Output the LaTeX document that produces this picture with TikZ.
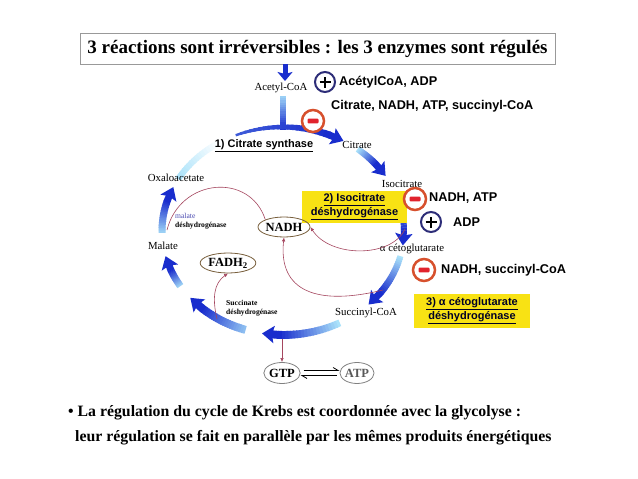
\documentclass[tikz,border=0pt]{standalone}
\usepackage{fontspec}
\setmainfont{Liberation Serif}
\setsansfont{Liberation Sans}
\usetikzlibrary{arrows.meta,shapes.geometric}
\definecolor{clight}{RGB}{170,226,250}
\definecolor{cdark}{RGB}{25,45,205}
\definecolor{ringc}{RGB}{215,80,45}
\definecolor{minusred}{RGB}{225,35,45}
\definecolor{navyc}{RGB}{45,45,120}
\definecolor{maroonc}{RGB}{165,70,95}
\definecolor{yboxc}{RGB}{248,226,20}
\definecolor{brownc}{RGB}{120,95,60}
\newcommand{\cyc}[1]{({283+121*cos(#1)},{231-104*sin(#1)})}
% #1 start angle, #2 tip angle, #3 start mix, #4 start width, #5 end width
\newcommand{\gradarc}[5]{%
  \pgfmathsetmacro{\gaT}{#2-8*sign(#2-#1)}%
  \foreach \k in {0,...,19}{%
    \pgfmathsetmacro{\ua}{#1+(\gaT-#1)*\k/20}%
    \pgfmathsetmacro{\ub}{#1+(\gaT-#1)*(\k+1.4)/20}%
    \pgfmathtruncatemacro{\mx}{#3+(100-#3)*\k/19}%
    \pgfmathsetmacro{\lw}{#4+(#5-#4)*\k/19}%
    \draw[line width=\lw pt, draw=cdark!\mx!clight] \cyc{\ua} -- \cyc{\ub};
  }%
  \draw[line width=#5pt, cdark, -{Stealth[length=12pt,width=17pt,inset=2pt]}] \cyc{\gaT} -- \cyc{#2};
}
\begin{document}
\begin{tikzpicture}[x=1pt,y=-1pt,
  lbl/.style={font=\fontsize{10.8}{11}\selectfont, inner sep=1pt},
  reg/.style={font=\sffamily\bfseries\fontsize{12.7}{13}\selectfont, anchor=west, inner sep=0pt},
  enz/.style={font=\sffamily\bfseries\fontsize{11}{13}\selectfont, align=center},
  regminus/.style={circle, draw=ringc, line width=2.5pt, fill=white, minimum size=22pt, inner sep=0pt,
    path picture={\fill[minusred, rounded corners=1pt] ([xshift=-5.5pt,yshift=-2.3pt]path picture bounding box.center) rectangle ([xshift=5.5pt,yshift=2.3pt]path picture bounding box.center);}},
  regplus/.style={circle, draw=navyc, line width=2pt, fill=white, minimum size=20pt, inner sep=0pt,
    path picture={\draw[black, line width=2.6pt] ([xshift=-5.5pt]path picture bounding box.center) -- ([xshift=5.5pt]path picture bounding box.center);
      \draw[black, line width=2.6pt] ([yshift=-5.5pt]path picture bounding box.center) -- ([yshift=5.5pt]path picture bounding box.center);}},
  thin/.style={draw=maroonc, line width=0.6pt},
  thinarrow/.style={thin, -{Latex[length=4pt,width=3.5pt]}},
  yb/.style={fill=yboxc, inner sep=0pt},
  cof/.style={ellipse, draw=brownc, line width=0.8pt, inner sep=0pt, font=\bfseries\fontsize{12.5}{12.5}\selectfont}
]
\useasboundingbox (0,0) rectangle (638,479);
\fill[white] (0,0) rectangle (638,479);

% title
\node[draw=gray!80, line width=0.8pt, minimum width=475pt, minimum height=31pt, inner sep=0pt,
  font=\bfseries\fontsize{19}{20}\selectfont] (title) at (317.5,48.5)
  {3 réactions sont irréversibles : les 3 enzymes sont régulés};

% acetyl-CoA input
\coordinate (acin) at (285,81);
\draw[line width=5pt, cdark, -{Stealth[length=9pt,width=15pt,inset=2pt]}] (title.south -| acin) -- (acin);
\node[lbl] (acetyl) at (281,88) {Acetyl-CoA};
\foreach \k in {0,...,14}{
  \pgfmathsetmacro{\ya}{96+2.2*\k}
  \pgfmathsetmacro{\yb}{\ya+3}
  \pgfmathtruncatemacro{\mx}{10+90*\k/14}
  \draw[line width=6pt, draw=cdark!\mx!clight] (283,\ya) -- (283,\yb);
}

% faint arc
\foreach \k in {0,...,15}{
  \pgfmathsetmacro{\ua}{150-28*\k/16}
  \pgfmathsetmacro{\ub}{150-28*(\k+1.4)/16}
  \pgfmathtruncatemacro{\mx}{100-95*\k/15}
  \draw[line width=6pt, draw=clight!\mx!white] \cyc{\ua} -- \cyc{\ub};
}

% cycle arrows
\gradarc{113}{60}{75}{2.5}{7}
\gradarc{52}{32}{0}{6}{7}
\gradarc{8}{-8}{70}{6}{6}
\gradarc{-14}{-45}{0}{6}{7}
\gradarc{-62}{-100}{0}{7}{8}
\gradarc{-108}{-140}{20}{8}{8}
\gradarc{-148}{-166}{10}{7}{7}
\gradarc{181}{155}{10}{7}{7}

% yellow boxes
\node[yb, minimum width=105pt, minimum height=32pt] (box2) at (354.5,207) {};
\node[enz, text=black!85!blue] (enz2) at (box2.center) {\underline{2) Isocitrate}\\[1pt]\underline{déshydrogénase}};
\node[yb, minimum width=116pt, minimum height=34pt] (box3) at (472,311) {};
\node[enz, text=black!85!blue] (enz3) at (box3.center) {\underline{3) α cétoglutarate}\\[1pt]\underline{déshydrogénase}};
\node[enz] (enz1) at (264,146) {\underline{1) Citrate synthase}};

% metabolite labels
\node[lbl] (citrate) at (357,145) {Citrate};
\node[lbl] (isocit) at (402,184) {Isocitrate};
\node[lbl] (akg) at (412,249) {α cétoglutarate};
\node[lbl] (succoa) at (366,313) {Succinyl-CoA};
\node[lbl] (oxalo) at (176,178) {Oxaloacetate};
\node[lbl] (malate) at (163,246) {Malate};
\node[font=\fontsize{7.6}{9}\selectfont, align=left, anchor=west, inner sep=0pt] (mdh) at (175,221)
  {\textcolor{blue!40!gray}{malate}\\\textbf{déshydrogénase}};
\node[font=\fontsize{7.6}{9}\selectfont, align=left, anchor=west, inner sep=0pt] (sdh) at (226,308)
  {\textbf{Succinate}\\\textbf{déshydrogénase}};

% cofactors
\node[cof, minimum width=42pt, minimum height=20pt] (nadh) at (284,227) {NADH};
\node[cof, minimum width=38pt, minimum height=20pt] (fadh) at (228,263) {FADH$_\mathbf{2}$};
\node[cof, draw=gray, minimum width=30pt, minimum height=21pt] (gtp) at (282,373) {GTP};
\node[cof, draw=gray, minimum width=30pt, minimum height=21pt, text=black!65] (atp) at (357,373) {ATP};
\draw[line width=0.8pt, -{Straight Barb[left,length=5pt,width=6pt]}] ([yshift=2.5pt]gtp.east) ++(3,0) -- ([yshift=2.5pt]atp.west) ;
\draw[line width=0.8pt, -{Straight Barb[left,length=5pt,width=6pt]}] ([yshift=-2.5pt]atp.west) ++(-3,0) -- ([yshift=-2.5pt]gtp.east);

% thin production arrows
\coordinate (p1) at (167,230);
\coordinate (p2) at (405,229);
\coordinate (p3) at (383,290);
\coordinate (p4) at (217,319);
\coordinate (p5) at (282,339);
\draw[thin] (p1) .. controls (180,178) and (250,172) .. (nadh.north west);
\draw[thinarrow] (p2) .. controls (392,258) and (330,258) .. (nadh.east);
\draw[thinarrow] (p3) .. controls (318,306) and (278,292) .. (nadh.south);
\draw[thinarrow] (p4) .. controls (212,298) and (214,283) .. (fadh.south);
\draw[thinarrow] (p5) -- (gtp.north);

% regulation
\node[regplus] (plus1) at (325,82) {};
\node[reg] (r1) at (339,82) {AcétylCoA, ADP};
\node[regminus] (minus1) at (313,121) {};
\node[reg] (r2) at (331,106) {Citrate, NADH, ATP, succinyl-CoA};
\node[regminus] (minus2) at (415,199) {};
\node[reg] (r3) at (429,198) {NADH, ATP};
\node[regplus] (plus2) at (431,222) {};
\node[reg] (r4) at (453,222) {ADP};
\node[regminus] (minus3) at (424,270) {};
\node[reg] (r5) at (441,270) {NADH, succinyl-CoA};

% bottom text
\node[anchor=west, inner sep=0pt, font=\bfseries\fontsize{15.8}{18}\selectfont] (b1) at (68,413)
  {• La régulation du cycle de Krebs est coordonnée avec la glycolyse :};
\node[anchor=west, inner sep=0pt, font=\bfseries\fontsize{15.8}{18}\selectfont] (b2) at (75,438)
  {leur régulation se fait en parallèle par les mêmes produits énergétiques};
\end{tikzpicture}
\end{document}
